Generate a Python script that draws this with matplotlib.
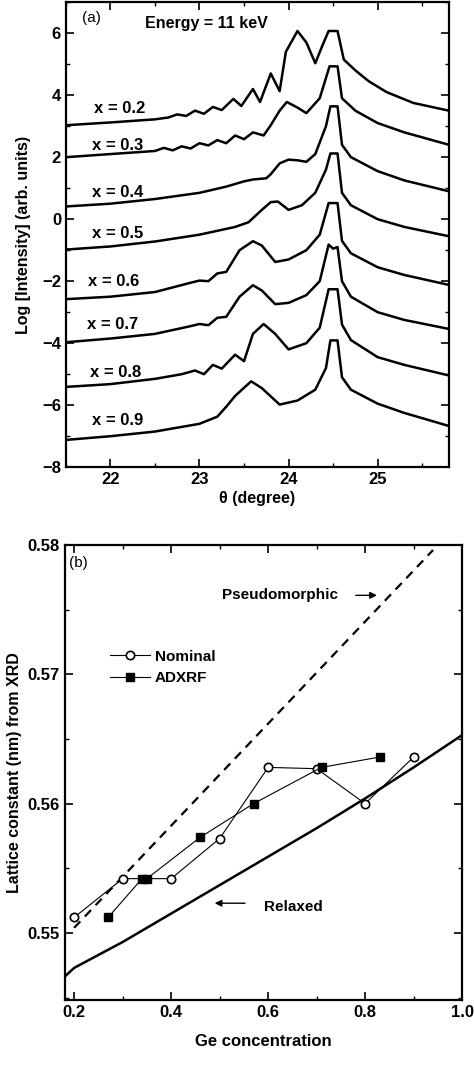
import matplotlib
matplotlib.use('Agg')
import matplotlib.pyplot as plt
from matplotlib.ticker import MultipleLocator

plt.rcParams['font.family'] = ['Liberation Sans', 'DejaVu Sans']
plt.rcParams['font.weight'] = 'bold'

# ---- panel (a): XRD curves ----
labels_a = ['x = 0.2', 'x = 0.3', 'x = 0.4', 'x = 0.5', 'x = 0.6', 'x = 0.7', 'x = 0.8', 'x = 0.9']
th02 = [21.5, 22.0, 22.5, 22.65, 22.75, 22.85, 22.95, 23.05, 23.15, 23.25, 23.38, 23.47, 23.6, 23.68, 23.8, 23.9, 23.97, 24.1, 24.2, 24.3, 24.38, 24.45, 24.55, 24.62, 24.75, 24.9, 25.1, 25.4, 25.8]
v02 = [3.03, 3.12, 3.22, 3.28, 3.38, 3.33, 3.5, 3.4, 3.62, 3.52, 3.88, 3.65, 4.2, 3.78, 4.7, 4.13, 5.4, 6.07, 5.7, 5.03, 5.6, 6.07, 6.07, 5.15, 4.8, 4.45, 4.1, 3.75, 3.5]
th03 = [21.5, 22.0, 22.5, 22.6, 22.7, 22.8, 22.9, 23.0, 23.1, 23.2, 23.3, 23.4, 23.5, 23.6, 23.72, 23.8, 23.9, 23.98, 24.1, 24.2, 24.35, 24.46, 24.55, 24.6, 24.75, 25.0, 25.3, 25.8]
v03 = [2.0, 2.1, 2.2, 2.3, 2.22, 2.35, 2.28, 2.45, 2.38, 2.55, 2.45, 2.7, 2.58, 2.8, 2.7, 3.03, 3.5, 3.78, 3.6, 3.42, 3.9, 4.93, 4.93, 3.9, 3.5, 3.1, 2.8, 2.4]
th04 = [21.5, 22.0, 22.5, 23.0, 23.3, 23.5, 23.6, 23.75, 23.8, 23.9, 24.0, 24.1, 24.2, 24.3, 24.42, 24.47, 24.55, 24.6, 24.7, 25.0, 25.3, 25.8]
v04 = [0.41, 0.5, 0.65, 0.85, 1.05, 1.22, 1.28, 1.32, 1.45, 1.8, 1.92, 1.9, 1.85, 2.1, 3.0, 3.64, 3.64, 2.4, 2.0, 1.55, 1.25, 0.9]
th05 = [21.5, 22.0, 22.5, 23.0, 23.4, 23.55, 23.7, 23.8, 23.88, 24.0, 24.15, 24.3, 24.42, 24.47, 24.55, 24.6, 24.7, 25.0, 25.3, 25.8]
v05 = [-0.98, -0.88, -0.72, -0.5, -0.25, -0.1, 0.3, 0.55, 0.57, 0.3, 0.45, 0.85, 1.6, 2.12, 2.12, 0.85, 0.45, 0.0, -0.25, -0.55]
th06 = [21.5, 22.0, 22.5, 22.9, 23.0, 23.1, 23.2, 23.3, 23.45, 23.6, 23.7, 23.85, 24.0, 24.2, 24.35, 24.45, 24.55, 24.6, 24.7, 25.0, 25.3, 25.8]
v06 = [-2.58, -2.5, -2.35, -2.05, -1.98, -2.0, -1.75, -1.7, -1.0, -0.71, -0.85, -1.38, -1.3, -1.0, -0.5, 0.52, 0.52, -0.7, -1.1, -1.55, -1.8, -2.12]
th07 = [21.5, 22.0, 22.5, 22.9, 23.0, 23.1, 23.2, 23.3, 23.45, 23.6, 23.7, 23.85, 24.0, 24.2, 24.35, 24.45, 24.5, 24.55, 24.6, 24.7, 25.0, 25.3, 25.8]
v07 = [-3.97, -3.85, -3.7, -3.45, -3.38, -3.42, -3.18, -3.15, -2.5, -2.13, -2.3, -2.74, -2.7, -2.45, -2.0, -0.82, -0.95, -0.9, -2.0, -2.5, -3.0, -3.25, -3.54]
th08 = [21.5, 22.0, 22.5, 22.8, 22.95, 23.05, 23.15, 23.25, 23.4, 23.5, 23.6, 23.72, 23.85, 24.0, 24.2, 24.35, 24.45, 24.55, 24.6, 24.7, 25.0, 25.3, 25.8]
v08 = [-5.41, -5.32, -5.15, -5.0, -4.88, -5.0, -4.7, -4.82, -4.37, -4.58, -3.7, -3.38, -3.7, -4.2, -4.0, -3.5, -2.26, -2.26, -3.4, -3.9, -4.45, -4.7, -5.04]
th09 = [21.5, 22.0, 22.5, 23.0, 23.2, 23.3, 23.4, 23.58, 23.7, 23.9, 24.1, 24.3, 24.42, 24.47, 24.55, 24.6, 24.7, 25.0, 25.3, 25.8]
v09 = [-7.12, -7.0, -6.85, -6.6, -6.37, -6.05, -5.7, -5.23, -5.45, -5.98, -5.85, -5.5, -4.8, -3.91, -3.91, -5.1, -5.5, -5.95, -6.25, -6.67]
label_x = [22.1, 22.08, 22.08, 22.08, 22.04, 22.02, 22.06, 22.08]
label_y = [3.56, 2.39, 0.86, -0.47, -2.02, -3.41, -4.93, -6.48]

# ---- panel (b): lattice constant ----
nom_x = [0.2, 0.3, 0.4, 0.5, 0.6, 0.7, 0.8, 0.9]
nom_y = [0.5512, 0.5542, 0.5542, 0.5573, 0.5628, 0.5627, 0.5600, 0.5636]
adx_x = [0.27, 0.34, 0.35, 0.46, 0.57, 0.71, 0.83]
adx_y = [0.5512, 0.5542, 0.5542, 0.5574, 0.5600, 0.5628, 0.5636]
pseudo_x = [0.2, 0.94]
pseudo_y = [0.5504, 0.5796]
relax_x = [0.18, 0.2, 0.3, 0.4, 0.5, 0.6, 0.7, 0.8, 0.9, 1.0]
relax_y = [0.5466, 0.5473, 0.5493, 0.5515, 0.5537, 0.5559, 0.5581, 0.5604, 0.5628, 0.5653]

fig = plt.figure(figsize=(4.74, 10.79), dpi=100)

ax1 = fig.add_axes([0.139, 0.567, 0.808, 0.431])
curves = [(th02, v02), (th03, v03), (th04, v04), (th05, v05), (th06, v06), (th07, v07), (th08, v08), (th09, v09)]
for (t, v), lab, lx, ly in zip(curves, labels_a, label_x, label_y):
    ax1.plot(t, v, color='black', lw=1.8)
    ax1.text(lx, ly, lab, ha='center', va='center', fontsize=12, fontweight='bold')
ax1.text(21.68, 6.5, '(a)', fontsize=11, fontweight='normal', va='center')
ax1.text(23.08, 6.3, 'Energy = 11 keV', fontsize=11.5, fontweight='bold', ha='center', va='center')
ax1.set_xlim(21.5, 25.8)
ax1.set_ylim(-8, 7)
ax1.xaxis.set_major_locator(MultipleLocator(1))
ax1.xaxis.set_minor_locator(MultipleLocator(0.5))
ax1.yaxis.set_minor_locator(MultipleLocator(1))
ax1.set_yticks([-8, -6, -4, -2, 0, 2, 4, 6])
ax1.set_xlabel('θ (degree)', fontsize=11.5, fontweight='bold', labelpad=3)
ax1.set_ylabel('Log [Intensity] (arb. units)', fontsize=11.5, fontweight='bold', labelpad=8)

ax2 = fig.add_axes([0.137, 0.073, 0.838, 0.422])
ax2.plot(pseudo_x, pseudo_y, color='black', lw=1.6, ls=(0, (4, 3)))
ax2.plot(relax_x, relax_y, color='black', lw=1.8)
ax2.plot(nom_x, nom_y, color='black', lw=0.8, marker='o', ms=6, mfc='white', mec='black', mew=1.2, label='Nominal')
ax2.plot(adx_x, adx_y, color='black', lw=0.8, marker='s', ms=6, mfc='black', mec='black', label='ADXRF')
ax2.legend(loc='upper left', bbox_to_anchor=(0.08, 0.80), frameon=False, fontsize=11, handlelength=2.6, handletextpad=0.3, labelspacing=0.5)
ax2.text(0.624, 0.5761, 'Pseudomorphic', fontsize=11, ha='center', va='center')
ax2.annotate('', xy=(0.83, 0.5761), xytext=(0.775, 0.5761), arrowprops=dict(arrowstyle='-|>', lw=1, color='black'))
ax2.text(0.651, 0.5520, 'Relaxed', fontsize=11, ha='center', va='center')
ax2.annotate('', xy=(0.484, 0.5523), xytext=(0.558, 0.5523), arrowprops=dict(arrowstyle='-|>', lw=1, color='black'))
ax2.text(0.19, 0.5786, '(b)', fontsize=11, fontweight='normal', va='center')
ax2.set_xlim(0.181, 1.0)
ax2.set_ylim(0.5448, 0.58)
ax2.set_xticks([0.2, 0.4, 0.6, 0.8, 1.0])
ax2.set_xticklabels(['0.2', '0.4', '0.6', '0.8', '1.0'])
ax2.xaxis.set_minor_locator(MultipleLocator(0.1))
ax2.set_yticks([0.55, 0.56, 0.57, 0.58])
ax2.yaxis.set_minor_locator(MultipleLocator(0.005))
ax2.set_xlabel('Ge concentration', fontsize=12, fontweight='bold', labelpad=10)
ax2.set_ylabel('Lattice constant (nm) from XRD', fontsize=11.5, fontweight='bold', labelpad=4)

for ax in (ax1, ax2):
    ax.tick_params(which='both', direction='in', top=True, right=True, labelsize=12)
    ax.tick_params(which='major', length=6, width=1.2)
    ax.tick_params(which='minor', length=3, width=1)
    for s in ax.spines.values():
        s.set_linewidth(1.6)
    for lab in ax.get_xticklabels() + ax.get_yticklabels():
        lab.set_fontweight('bold')

plt.savefig('out.png', dpi=100)
